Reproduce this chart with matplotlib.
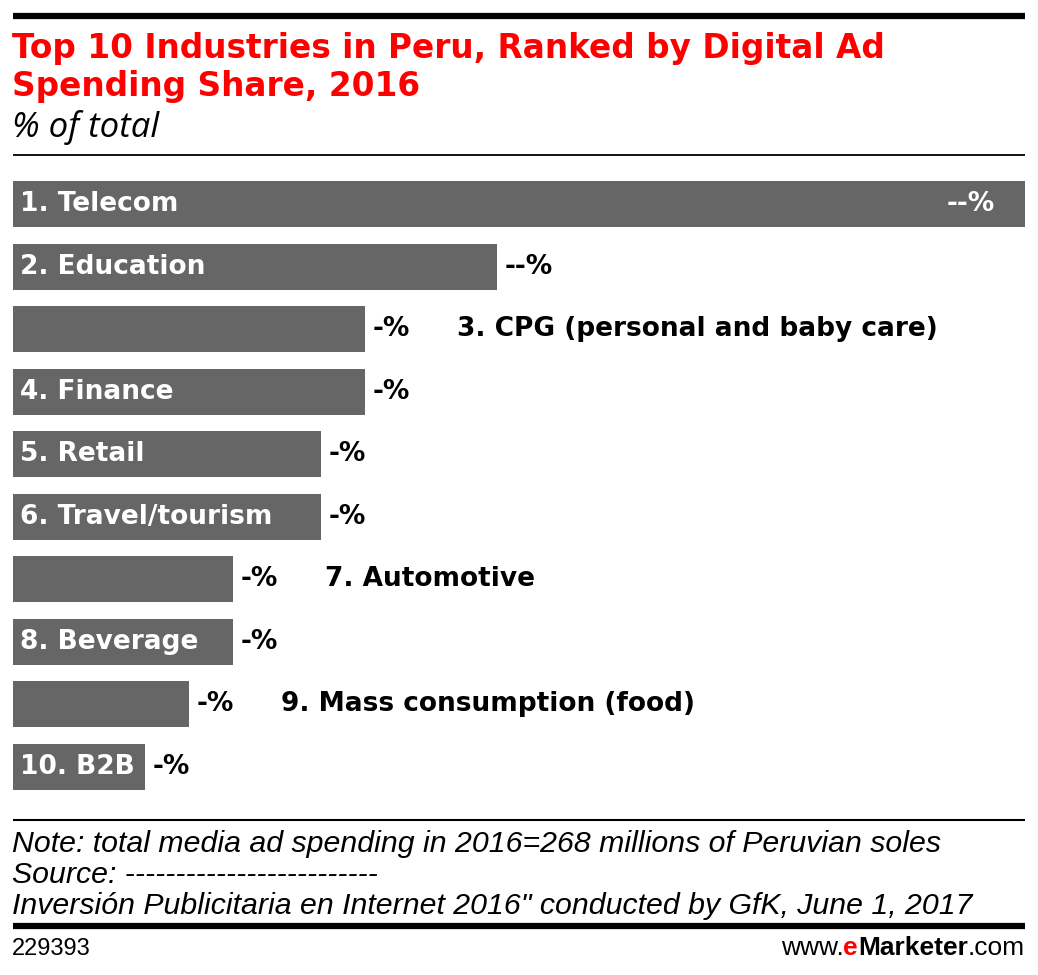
import matplotlib
matplotlib.use("Agg")
import matplotlib.pyplot as plt

# data
industries = ["1. Telecom", "2. Education", "3. CPG (personal and baby care)", "4. Finance",
              "5. Retail", "6. Travel/tourism", "7. Automotive", "8. Beverage",
              "9. Mass consumption (food)", "10. B2B"]
shares = [23, 11, 8, 8, 7, 7, 5, 5, 4, 3]
value_labels = ["--%", "--%", "-%", "-%", "-%", "-%", "-%", "-%", "-%", "-%"]
label_outside = [False, False, True, False, False, False, True, False, True, False]

W, H = 1038, 975
fig = plt.figure(figsize=(W / 100, H / 100), dpi=100)
fig.patch.set_facecolor("white")

def fx(px):
    return px / W

def fy(py):
    return 1 - py / H

def hline(y, lw):
    fig.add_artist(plt.Line2D([fx(13), fx(1025)], [fy(y), fy(y)], color="black", lw=lw,
                              solid_capstyle="butt"))

# header
hline(16, 4.5)
fig.text(fx(12), fy(58), "Top 10 Industries in Peru, Ranked by Digital Ad", color="#ff0000",
         fontsize=23.6, fontweight="bold", family="DejaVu Sans", va="baseline")
fig.text(fx(12), fy(96), "Spending Share, 2016", color="#ff0000",
         fontsize=23.6, fontweight="bold", family="DejaVu Sans", va="baseline")
fig.text(fx(12), fy(137), "% of total", color="black", fontsize=25, style="italic",
         family="Open Sans", va="baseline")
hline(154.5, 1.3)

# bars
ax = fig.add_axes([fx(13), fy(790), fx(1012), 609 / H])
y = list(range(len(shares)))
ax.barh(y, shares, height=0.736, color="#666666", left=0)
ax.set_xlim(0, 23)
ax.set_ylim(9.368, -0.368)
ax.axis("off")

pt = 0.72  # pixels -> points at dpi 100
lab_kw = dict(textcoords="offset points", va="center", fontsize=19, fontweight="bold",
              family="DejaVu Sans")
for i, (v, lab, vl, out) in enumerate(zip(shares, industries, value_labels, label_outside)):
    if i == 0:
        ax.annotate(vl, (v, i), xytext=(-30 * pt, 0), ha="right", color="white", **lab_kw)
    else:
        ax.annotate(vl, (v, i), xytext=(8 * pt, 0), ha="left", color="black", **lab_kw)
    if out:
        ax.annotate(lab, (v, i), xytext=(92 * pt, 0), ha="left", color="black", **lab_kw)
    else:
        ax.annotate(lab, (0, i), xytext=(7 * pt, 0), ha="left", color="white", **lab_kw)

# footer
hline(820, 1.5)
foot = ["Note: total media ad spending in 2016=268 millions of Peruvian soles",
        "Source: -------------------------",
        "Inversi\u00f3n Publicitaria en Internet 2016\" conducted by GfK, June 1, 2017"]
for k, line in enumerate(foot):
    fig.text(fx(12), fy(852 + 31 * k), line, fontsize=21.8, style="italic",
             family="Liberation Sans", va="baseline")
hline(926, 4.5)
fig.text(fx(12), fy(955), "229393", fontsize=17, family="Liberation Sans", va="baseline")

# www.eMarketer.com, built right to left
r = fig.canvas.get_renderer()
parts = [("www.", "black", "normal"), ("e", "#ff0000", "bold"),
         ("Marketer", "black", "bold"), (".com", "black", "normal")]
xr = 1025
for txt, col, wt in reversed(parts):
    t = fig.text(fx(xr), fy(955), txt, fontsize=19, color=col, fontweight=wt,
                 family="Liberation Sans", ha="right", va="baseline")
    xr -= t.get_window_extent(r).width

fig.savefig("out.png", dpi=100)
